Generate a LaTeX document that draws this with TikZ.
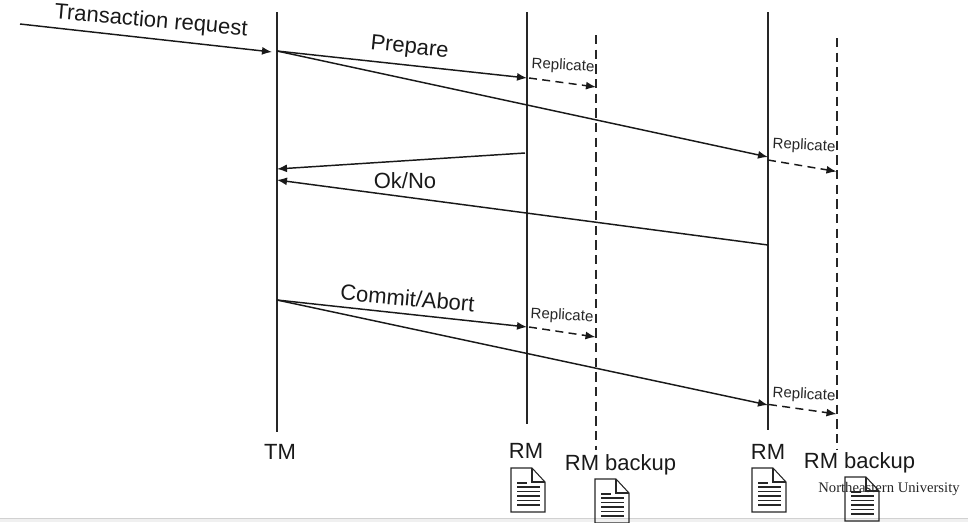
\documentclass[tikz,border=0pt]{standalone}
\usepackage{fontspec}
\setmainfont{Liberation Sans}
\newfontfamily\nuserif{Liberation Serif}
\usetikzlibrary{arrows.meta}
\newcommand{\pxfont}[1]{\fontsize{#1}{#1}\selectfont}
\tikzset{
  x=0.75pt,y=-0.75pt,
  life/.style={line width=1.3pt,draw=black!85},
  backup/.style={line width=1pt,draw=black!85,dash pattern=on 7pt off 4pt},
  msg/.style={line width=1.1pt,draw=black!90,-{Latex[length=7.5pt,width=6pt]}},
  rep/.style={line width=1.1pt,draw=black!90,dash pattern=on 6pt off 4pt,-{Latex[length=7.5pt,width=6pt]}},
  big/.style={font=\pxfont{16.5pt},inner sep=0pt,text=black!90},
  small/.style={font=\pxfont{11.3pt},inner sep=0pt,text=black!85},
  docline/.style={line width=0.8pt,draw=black!85},
  pics/docicon/.style={code={
    \draw[docline,line join=miter] (0,0) -- (21,0) -- (34,14) -- (34,44) -- (0,44) -- cycle;
    \draw[docline] (21,0) -- (21,14) -- (34,14);
    \draw[docline] (6,15) -- (16,15);
    \foreach \yy in {19,23.5,28,32.5,37}{\draw[docline] (6,\yy) -- (29,\yy);}
  }},
}
\begin{document}
\begin{tikzpicture}
\useasboundingbox (0,0) rectangle (968,522);
\fill[black!6] (0,519) rectangle (968,522);
\draw[black!18,line width=0.6pt] (0,518.5) -- (968,518.5);

% lifeline ends
\coordinate (tmT) at (277,12);   \coordinate (tmB) at (277,432);
\coordinate (rmaT) at (527,12);  \coordinate (rmaB) at (527,424);
\coordinate (bkaT) at (596,35);  \coordinate (bkaB) at (596,450);
\coordinate (rmbT) at (768,12);  \coordinate (rmbB) at (768,430);
\coordinate (bkbT) at (837,38);  \coordinate (bkbB) at (837,450);
\draw[life] (tmT) -- (tmB);
\draw[life] (rmaT) -- (rmaB);
\draw[life] (rmbT) -- (rmbB);
\draw[backup] (bkaT) -- (bkaB);
\draw[backup] (bkbT) -- (bkbB);

% message ends
\coordinate (client) at (20,24);  \coordinate (tmIn) at (272,52);
\coordinate (tmP) at (277,51);    \coordinate (tmC) at (277,300);
\coordinate (aP) at (527,78);     \coordinate (bP) at (768,157);
\coordinate (aPb) at (596,87);    \coordinate (bPb) at (836.5,171.5);
\coordinate (bPs) at (768,160);   \coordinate (aPs) at (529,78);
\coordinate (aOk) at (525,153);   \coordinate (tmOkA) at (277,169);
\coordinate (bOk) at (768,245);   \coordinate (tmOkB) at (277,180);
\coordinate (aC) at (527,327);    \coordinate (bC) at (768,405);
\coordinate (aCs) at (529,327);   \coordinate (aCb) at (595.5,337);
\coordinate (bCs) at (769,404.5);   \coordinate (bCb) at (836.5,414);

\draw[msg] (client) -- (tmIn);
\draw[msg] (tmP) -- (aP);
\draw[msg] (tmP) -- (bP);
\draw[rep] (aPs) -- (aPb);
\draw[rep] (bPs) -- (bPb);
\draw[msg] (aOk) -- (tmOkA);
\draw[msg] (bOk) -- (tmOkB);
\draw[msg] (tmC) -- (aC);
\draw[msg] (tmC) -- (bC);
\draw[rep] (aCs) -- (aCb);
\draw[rep] (bCs) -- (bCb);

% labels
\node[big,rotate=-5] (ltx) at (151,21.5) {Transaction request};
\node[big,rotate=-6] (lpr) at (409.5,48) {Prepare};
\node[big] (lok) at (405,181) {Ok/No};
\node[big,rotate=-5] (lca) at (407.5,298) {Commit/Abort};
\node[small,rotate=-3] (lr1) at (563,66) {Replicate};
\node[small,rotate=-3] (lr2) at (804,146) {Replicate};
\node[small,rotate=-3] (lr3) at (562,316) {Replicate};
\node[small,rotate=-3] (lr4) at (804,395) {Replicate};
\node[big] (ltm) at (280,452) {TM};
\node[big] (lrma) at (526,451) {RM};
\node[big] (lrmb) at (768,452) {RM};
\node[big] (lbka) at (620.5,465) {RM backup};
\node[big] (lbkb) at (859.5,463) {RM backup};

% document icons
\pic at (511,468) {docicon};
\pic at (595,479) {docicon};
\pic at (752,468) {docicon};
\pic at (845,477) {docicon};

\node[inner sep=0pt,text=black!85,font=\nuserif\pxfont{11pt}] (nu) at (889,489) {Northeastern University};
\end{tikzpicture}
\end{document}
